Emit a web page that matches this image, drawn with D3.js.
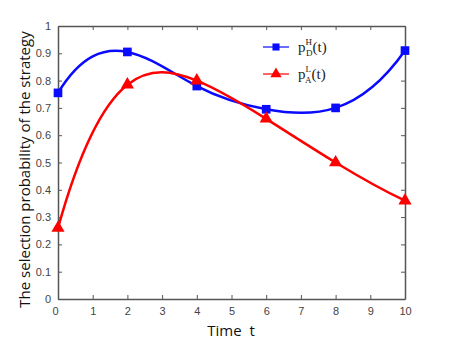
<!DOCTYPE html>
<html lang="en">
<head>
<meta charset="utf-8">
<script src="https://cdn.jsdelivr.net/npm/d3@7"></script>
<style>
  body { margin: 0; background: #fff; }
  svg text { font-family: "Liberation Sans", Arial, sans-serif; }
</style>
</head>
<body>
<script>
    // data
    const times = [0, 2, 4, 6, 8, 10];
    const pDH = [0.755, 0.905, 0.78, 0.695, 0.70, 0.91];
    const pAL = [0.26, 0.785, 0.80, 0.66, 0.50, 0.36];
    const xTicks = [0, 1, 2, 3, 4, 5, 6, 7, 8, 9, 10];
    const yTicks = [0, 0.1, 0.2, 0.3, 0.4, 0.5, 0.6, 0.7, 0.8, 0.9, 1];

    const w = 474, h = 351;
    const margin = {left: 58, right: 69, top: 26, bottom: 52};

    const x = d3.scaleLinear().domain([0, 10]).range([margin.left, w - margin.right]);
    const y = d3.scaleLinear().domain([0, 1]).range([h - margin.bottom, margin.top]);

    // cubic spline with not-a-knot ends (like matlab's spline), as a d3 curve
    function curveSplineNAK(context) {
        let xs, ys;
        return {
            areaStart() {}, areaEnd() {},
            lineStart() { xs = []; ys = []; },
            point(px, py) { xs.push(+px); ys.push(+py); },
            lineEnd() {
                const n = xs.length;
                if (n < 4) {
                    xs.forEach((v, i) => i ? context.lineTo(v, ys[i]) : context.moveTo(v, ys[i]));
                    return;
                }
                const hs = d3.range(n - 1).map(i => xs[i + 1] - xs[i]);
                // build system for second derivatives M
                const A = d3.range(n).map(() => new Array(n).fill(0));
                const b = new Array(n).fill(0);
                A[0][0] = hs[1]; A[0][1] = -(hs[0] + hs[1]); A[0][2] = hs[0];
                A[n - 1][n - 3] = hs[n - 2]; A[n - 1][n - 2] = -(hs[n - 3] + hs[n - 2]); A[n - 1][n - 1] = hs[n - 3];
                for (let i = 1; i < n - 1; i++) {
                    A[i][i - 1] = hs[i - 1];
                    A[i][i] = 2 * (hs[i - 1] + hs[i]);
                    A[i][i + 1] = hs[i];
                    b[i] = 6 * ((ys[i + 1] - ys[i]) / hs[i] - (ys[i] - ys[i - 1]) / hs[i - 1]);
                }
                // gaussian elimination with pivoting
                for (let c = 0; c < n; c++) {
                    let p = c;
                    for (let r = c + 1; r < n; r++) if (Math.abs(A[r][c]) > Math.abs(A[p][c])) p = r;
                    [A[c], A[p]] = [A[p], A[c]]; [b[c], b[p]] = [b[p], b[c]];
                    for (let r = c + 1; r < n; r++) {
                        const f = A[r][c] / A[c][c];
                        for (let k = c; k < n; k++) A[r][k] -= f * A[c][k];
                        b[r] -= f * b[c];
                    }
                }
                const M = new Array(n).fill(0);
                for (let r = n - 1; r >= 0; r--) {
                    let s = b[r];
                    for (let k = r + 1; k < n; k++) s -= A[r][k] * M[k];
                    M[r] = s / A[r][r];
                }
                context.moveTo(xs[0], ys[0]);
                for (let i = 0; i < n - 1; i++) {
                    const hi = hs[i], sl = (ys[i + 1] - ys[i]) / hi;
                    const d0 = sl - hi * (2 * M[i] + M[i + 1]) / 6;
                    const d1 = sl + hi * (M[i] + 2 * M[i + 1]) / 6;
                    context.bezierCurveTo(xs[i] + hi / 3, ys[i] + d0 * hi / 3,
                        xs[i + 1] - hi / 3, ys[i + 1] - d1 * hi / 3,
                        xs[i + 1], ys[i + 1]);
                }
            }
        };
    }

    const svg = d3.select('body').append('svg')
        .attr('width', w)
        .attr('height', h);

    const axisColor = '#555';

    // axes, ticks pointing inward
    const gx = svg.append('g')
        .attr('transform', `translate(0,${y(0)})`)
        .call(d3.axisBottom(x).tickValues(xTicks).tickSizeInner(-4).tickSizeOuter(0).tickPadding(8));
    const gxTop = svg.append('g')
        .attr('transform', `translate(0,${y(1)})`)
        .call(d3.axisTop(x).tickValues(xTicks).tickSizeInner(-4).tickSizeOuter(0).tickFormat(''));
    const gy = svg.append('g')
        .attr('transform', `translate(${x(0)},0)`)
        .call(d3.axisLeft(y).tickValues(yTicks).tickSizeInner(-4).tickSizeOuter(0).tickPadding(7).tickFormat(d => d === 0 || d === 1 ? d : d3.format('.1f')(d)));
    const gyRight = svg.append('g')
        .attr('transform', `translate(${x(10)},0)`)
        .call(d3.axisRight(y).tickValues(yTicks).tickSizeInner(-4).tickSizeOuter(0).tickFormat(''));

    [gx, gxTop, gy, gyRight].forEach(g => {
        g.select('.domain').attr('stroke', axisColor).attr('stroke-width', 1.5);
        g.selectAll('.tick line').attr('stroke', axisColor);
        g.selectAll('.tick text').attr('fill', '#444').style('font-size', '11px');
    });
    gx.selectAll('.tick text').filter(d => d === 0).attr('dx', -3);

    // curves through the markers
    const line = d3.line()
        .x((d, i) => x(times[i]))
        .y(d => y(d))
        .curve(curveSplineNAK);

    const series = [
        {vals: pDH, color: '#0a0aff', shape: d3.symbolSquare, size: 75},
        {vals: pAL, color: '#ff0000', shape: d3.symbolTriangle, size: 75}
    ];

    series.forEach(s => {
        svg.append('path')
            .attr('d', line(s.vals))
            .attr('fill', 'none')
            .attr('stroke', s.color)
            .attr('stroke-width', 2.5);
        svg.append('g').selectAll('path')
            .data(s.vals)
            .enter()
            .append('path')
            .attr('transform', (d, i) => `translate(${x(times[i])},${y(d)})`)
            .attr('d', d3.symbol().type(s.shape).size(s.size))
            .attr('fill', s.color);
    });

    // legend
    const legend = svg.append('g');
    const legendRows = [
        {color: '#0a0aff', shape: d3.symbolSquare, size: 50, sup: 'H', sub: 'D', y: 47},
        {color: '#ff0000', shape: d3.symbolTriangle, size: 55, sup: 'L', sub: 'A', y: 74}
    ];
    legendRows.forEach(r => {
        legend.append('line')
            .attr('x1', 263).attr('x2', 289)
            .attr('y1', r.y).attr('y2', r.y)
            .attr('stroke', r.color).attr('stroke-width', 1.2);
        legend.append('path')
            .attr('transform', `translate(276,${r.y})`)
            .attr('d', d3.symbol().type(r.shape).size(r.size))
            .attr('fill', r.color);
        const t = legend.append('text')
            .attr('x', 298).attr('y', r.y + 5)
            .style('font-family', '"Liberation Serif", "Times New Roman", serif')
            .style('font-size', '15px')
            .attr('fill', '#222');
        t.append('tspan').text('p');
        t.append('tspan').attr('dy', -7).style('font-size', '9px').text(r.sup);
        t.append('tspan').attr('dx', -6).attr('dy', 11).style('font-size', '9px').text(r.sub);
        t.append('tspan').attr('dy', -4).text('(t)');
    });

    // axis titles
    svg.append('text')
        .attr('x', 231).attr('y', 336)
        .attr('text-anchor', 'middle')
        .style('font-family', '"Open Sans", sans-serif')
        .style('font-size', '15px')
        .style('white-space', 'pre')
        .attr('fill', '#111')
        .text('Time  t');

    svg.append('text')
        .attr('transform', `translate(30,${(y(0) + y(1)) / 2 + 7}) rotate(-90)`)
        .attr('text-anchor', 'middle')
        .style('font-family', '"Open Sans", sans-serif')
        .style('font-size', '15px')
        .attr('fill', '#111')
        .text('The selection probability of the strategy');
</script>
</body>
</html>
